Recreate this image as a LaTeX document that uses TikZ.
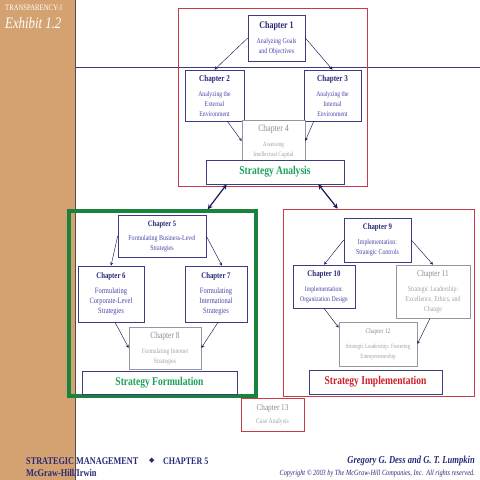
\documentclass[tikz,border=0pt]{standalone}
\usepackage{fontspec}
\setmainfont{Liberation Serif}[FakeStretch=0.8]
\newfontfamily\symfont{DejaVu Sans}
\definecolor{tanband}{RGB}{212,162,112}
\definecolor{bandline}{RGB}{85,75,75}
\definecolor{navy}{RGB}{60,60,130}
\definecolor{titlenavy}{RGB}{40,40,120}
\definecolor{descblue}{RGB}{70,70,170}
\definecolor{grayline}{RGB}{150,150,160}
\definecolor{graytext}{RGB}{140,140,140}
\definecolor{redframe}{RGB}{200,60,70}
\definecolor{greenframe}{RGB}{25,130,60}
\definecolor{greentext}{RGB}{30,160,90}
\definecolor{redtext}{RGB}{205,30,40}
\definecolor{arrownavy}{RGB}{25,25,90}
\begin{document}
\begin{tikzpicture}[x=1pt, y=-1pt,
  chap/.style={draw=navy, fill=white, line width=0.6pt, inner sep=1pt, align=flush center,
               font=\bfseries, text=titlenavy},
  chapgray/.style={draw=grayline, fill=white, line width=0.6pt, inner sep=1pt, align=flush center,
               text=graytext},
  banner/.style={draw=navy, fill=white, line width=0.6pt, font=\bfseries\fontsize{11.9}{13}\selectfont},
  frame/.style={draw=redframe, line width=0.6pt},
  link/.style={->, >=stealth, line width=0.45pt, draw=arrownavy},
  bigarrow/.style={<->, >=stealth, line width=1.2pt, draw=arrownavy},
  foot/.style={text=titlenavy, inner sep=0pt, anchor=base west},
]
  \useasboundingbox (0,0) rectangle (480,480);

  % Side band and rules
  \fill[tanband] (0,0) rectangle (75,480);
  \draw[bandline, line width=1.2pt] (75.5,0) -- (75.5,480);
  \draw[navy, line width=1pt] (76,67) -- (480,67);
  \node[text=white, inner sep=0pt, anchor=base west, font=\fontsize{8.4}{9}\selectfont] (transp) at (5,10) {TRANSPARENCY-1};
  \node[text=white, inner sep=0pt, anchor=base west, font=\itshape\fontsize{16}{18}\selectfont] (exhibit) at (5,28) {Exhibit 1.2};

  % Frames
  \node[frame, minimum width=189, minimum height=178] (analysis) at (272.5,97) {};
  \node[draw=greenframe, line width=3.5pt, minimum width=187, minimum height=185] (formulation) at (162.5,303.5) {};
  \node[frame, minimum width=191, minimum height=187] (implementation) at (378.5,302.5) {};

  % Strategy analysis
  \node[chap, minimum width=57, minimum height=46, text width=55] (ch1) at (276.5,38)
    {\fontsize{10}{11}\selectfont Chapter 1\\[5pt]\mdseries\color{descblue}\fontsize{7.4}{10}\selectfont Analyzing Goals\\and Objectives\par};
  \node[chap, minimum width=59, minimum height=51, text width=57] (ch2) at (214.5,95.5)
    {\fontsize{8.9}{10}\selectfont Chapter 2\\[5pt]\mdseries\color{descblue}\fontsize{7.2}{10}\selectfont Analyzing the\\External\\Environment\par};
  \node[chap, minimum width=57, minimum height=51, text width=55] (ch3) at (332.5,95.5)
    {\fontsize{8.9}{10}\selectfont Chapter 3\\[5pt]\mdseries\color{descblue}\fontsize{7.2}{10}\selectfont Analyzing the\\Internal\\Environment\par};
  \node[chapgray, minimum width=63, minimum height=42, text width=61] (ch4) at (273.5,141)
    {\fontsize{9.7}{11}\selectfont Chapter 4\\[5pt]\color{graytext!80}\fontsize{6.6}{10}\selectfont Assessing\\Intellectual Capital\par};
  \node[banner, text=greentext, minimum width=138, minimum height=24] (sa) at (275,172) {Strategy Analysis};

  % Strategy formulation
  \node[chap, minimum width=88, minimum height=42, text width=86] (ch5) at (162,236)
    {\fontsize{8.2}{9}\selectfont Chapter 5\\[5pt]\mdseries\color{descblue}\fontsize{7.4}{9.5}\selectfont Formulating Business-Level\\Strategies\par};
  \node[chap, minimum width=66, minimum height=56, text width=64] (ch6) at (111,294)
    {\fontsize{8.5}{9}\selectfont Chapter 6\\[5pt]\mdseries\color{descblue}\fontsize{8.1}{10}\selectfont Formulating\\Corporate-Level\\Strategies\par};
  \node[chap, minimum width=62, minimum height=56, text width=60] (ch7) at (216,294)
    {\fontsize{8.5}{9}\selectfont Chapter 7\\[5pt]\mdseries\color{descblue}\fontsize{8.1}{10}\selectfont Formulating\\International\\Strategies\par};
  \node[chapgray, minimum width=72, minimum height=42, text width=70] (ch8) at (165,348)
    {\fontsize{9.4}{10}\selectfont Chapter 8\\[5pt]\color{graytext!80}\fontsize{7}{10}\selectfont Formulating Internet\\Strategies\par};
  \node[banner, text=greentext, minimum width=155, minimum height=23] (sf) at (159.5,382.5) {Strategy Formulation};

  % Strategy implementation
  \node[chap, minimum width=67, minimum height=44, text width=65] (ch9) at (377.5,240)
    {\fontsize{8.5}{9}\selectfont Chapter 9\\[5pt]\mdseries\color{descblue}\fontsize{7.4}{10}\selectfont Implementation:\\Strategic Controls\par};
  \node[chap, minimum width=62, minimum height=43, text width=60] (ch10) at (324,286.5)
    {\fontsize{8.6}{9}\selectfont Chapter 10\\[5pt]\mdseries\color{descblue}\fontsize{7.2}{10}\selectfont Implementation:\\Organization Design\par};
  \node[chapgray, minimum width=74, minimum height=53, text width=72] (ch11) at (433,291.5)
    {\fontsize{9}{10}\selectfont Chapter 11\\[5pt]\color{graytext!80}\fontsize{7.4}{10}\selectfont Strategic Leadership:\\Excellence, Ethics, and\\Change\par};
  \node[chapgray, minimum width=78, minimum height=44, text width=76] (ch12) at (378,344)
    {\fontsize{7}{8}\selectfont Chapter 12\\[5pt]\color{graytext!80}\fontsize{6.4}{10}\selectfont Strategic Leadership: Fostering\\Entrepreneurship\par};
  \node[banner, text=redtext, minimum width=133, minimum height=24] (si) at (375.5,382) {Strategy Implementation};

  % Case analysis
  \node[chapgray, draw=redframe, minimum width=63, minimum height=33, text width=61] (ch13) at (272.5,414.5)
    {\fontsize{9}{10}\selectfont Chapter 13\\[4pt]\color{graytext!80}\fontsize{7.2}{9.5}\selectfont Case Analysis\par};

  % Links between chapters
  \draw[link] (ch1.west) -- (ch2.north);
  \draw[link] (ch1.east) -- (ch3.north);
  \draw[link] ([xshift=-17]ch2.south east) -- (ch4.west);
  \draw[link] ([xshift=10]ch3.south west) -- (ch4.east);
  \draw[link] (ch5.west) -- (ch6.north);
  \draw[link] (ch5.east) -- ([xshift=6]ch7.north);
  \draw[link] ([xshift=4]ch6.south) -- (ch8.west);
  \draw[link] ([xshift=2]ch7.south) -- (ch8.east);
  \draw[link] (ch9.west) -- (ch10.north);
  \draw[link] (ch9.east) -- (ch11.north);
  \draw[link] (ch10.south) -- ([yshift=-6]ch12.north west);
  \draw[link] ([xshift=-3]ch11.south) -- (ch12.east);

  % Analysis to formulation and implementation
  \draw[bigarrow] ([xshift=21]sa.south west) -- ([xshift=-50]formulation.north east);
  \draw[bigarrow] ([xshift=-26]sa.south east) -- ([xshift=55]implementation.north west);

  % Footer
  \node[foot, font=\bfseries\fontsize{10.3}{11}\selectfont] (book) at (26,464) {STRATEGIC MANAGEMENT};
  \node[foot, font=\symfont\fontsize{7}{8}\selectfont] (dot) at (149,462) {◆};
  \node[foot, font=\bfseries\fontsize{10}{11}\selectfont] (chapter) at (163,464) {CHAPTER 5};
  \node[foot, font=\bfseries\fontsize{10.4}{11}\selectfont] (publisher) at (26,476) {McGraw-Hill/Irwin};
  \node[foot, anchor=base east, font=\bfseries\itshape\fontsize{10.7}{12}\selectfont] (authors) at (475,463) {Gregory G. Dess and G. T. Lumpkin};
  \node[foot, anchor=base east, font=\itshape\fontsize{7.9}{9}\selectfont] (copyright) at (475,475) {Copyright © 2003 by The McGraw-Hill Companies, Inc.\ \ All rights reserved.};
\end{tikzpicture}
\end{document}
